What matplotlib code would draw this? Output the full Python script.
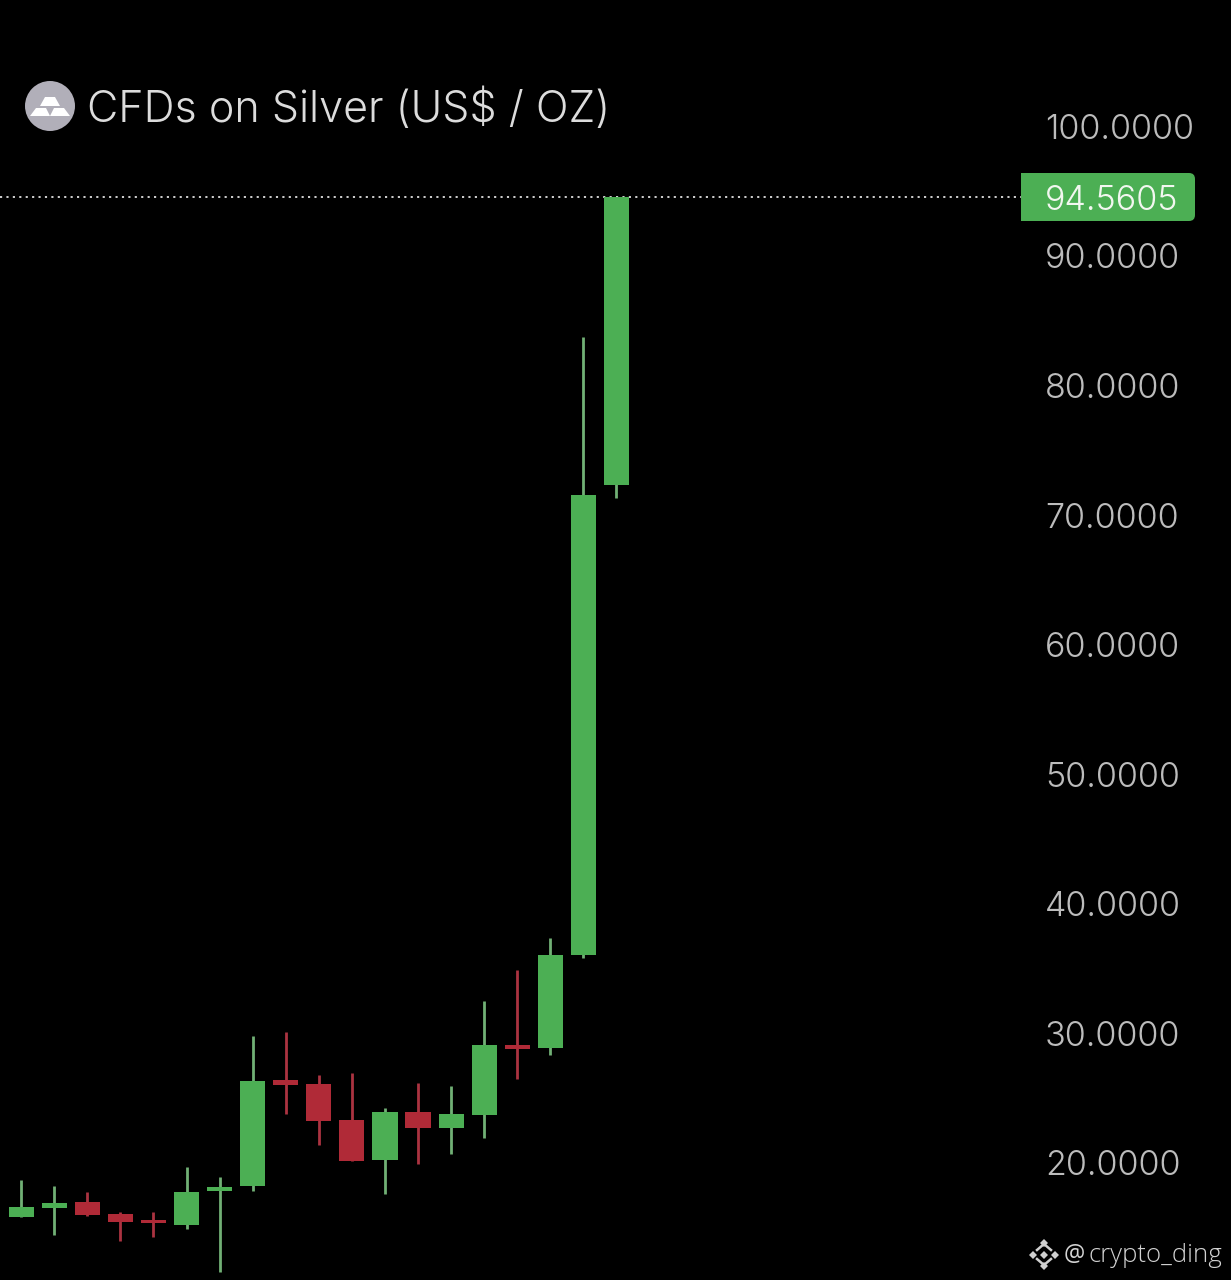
"""Monthly style candlestick chart of CFDs on silver."""

import matplotlib

matplotlib.use("Agg")

import matplotlib.pyplot as plt
from matplotlib.patches import Circle, FancyBboxPatch, Polygon, Rectangle
from matplotlib.ticker import FormatStrFormatter

W, H = 1231, 1280
GREEN = "#4caf54"
RED = "#b02a37"
BG = "#000000"
TICK_COLOR = "#bcbcbc"
FONT = "Inter"

opens = [15.81, 16.53, 16.97, 16.09, 15.60, 15.22, 17.82, 18.23, 26.40, 26.10, 23.29, 20.21, 23.94, 22.70, 23.70, 29.13, 28.85, 36.05, 72.31]
highs = [18.67, 18.23, 17.74, 16.22, 16.22, 19.69, 18.94, 29.82, 30.08, 26.79, 26.97, 24.27, 26.15, 25.94, 32.50, 34.89, 37.36, 83.73, 94.56]
lows = [15.81, 14.44, 15.93, 13.96, 14.27, 14.93, 11.61, 17.82, 23.80, 21.39, 20.18, 17.58, 19.90, 20.69, 21.91, 26.46, 28.36, 35.82, 71.31]
closes = [16.58, 16.89, 16.01, 15.45, 15.35, 17.79, 18.17, 26.33, 26.02, 23.22, 20.18, 23.94, 22.70, 23.78, 29.10, 28.82, 36.05, 71.54, 94.56]

y_ticks = [20, 30, 40, 50, 60, 70, 80, 90, 100]
last_price = "94.5605"
title = "CFDs on Silver (US$ / OZ)"
watermark = "crypto_ding"

fig = plt.figure(figsize=(W / 100, H / 100), dpi=100, facecolor=BG)

ax = fig.add_axes([0, 0, 1, 1], facecolor=BG)
ax.set_xlim(-0.64, 36.58)
ax.set_ylim(10.97, 109.74)
for spine in ax.spines.values():
    spine.set_visible(False)

x = list(range(len(opens)))
colors = [GREEN if c >= o else RED for o, c in zip(opens, closes)]
wick_colors = ["#71b075" if c >= o else "#ab3341" for o, c in zip(opens, closes)]

ax.vlines(x, lows, highs, colors=wick_colors, linewidth=2.0, zorder=2)
ax.bar(
    x,
    [abs(c - o) for o, c in zip(opens, closes)],
    bottom=[min(o, c) for o, c in zip(opens, closes)],
    width=0.76,
    color=colors,
    linewidth=0,
    zorder=3,
)

# price labels sit inside the plot, left aligned
ax.set_xticks([])
ax.set_yticks(y_ticks)
ax.yaxis.set_major_formatter(FormatStrFormatter("%.4f"))
ax.yaxis.tick_right()
ax.tick_params(axis="y", length=0, pad=-134, labelsize=24.6, labelcolor=TICK_COLOR)
for label in ax.get_yticklabels():
    label.set_fontfamily(FONT)
    label.set_fontweight(300)

ax.axhline(closes[-1], xmax=1021 / W, color="#d0d0d0", linewidth=1.4, linestyle=(0, (1.1, 2.2)), zorder=1)

# overlay in pixel coordinates for header, price tag and watermark
over = fig.add_axes([0, 0, 1, 1], facecolor="none")
over.set_xlim(0, W)
over.set_ylim(H, 0)
over.axis("off")

over.add_patch(Circle((50, 106), 25, color="#b1afb9", linewidth=0))
for bar in ([(45, 97), (55, 97), (60, 106), (40, 106)], [(36, 108), (46, 108), (50, 116), (30, 116)], [(54, 108), (64, 108), (70, 116), (50, 116)]):
    over.add_patch(Polygon(bar, closed=True, color="#ffffff", linewidth=0))

over.text(87, 110, title, color="#dcdcdc", fontsize=31, family=FONT, weight=300, ha="left", va="center")

over.add_patch(FancyBboxPatch((1027, 179), 162, 36, boxstyle="round,pad=6,rounding_size=6", color=GREEN, linewidth=0, zorder=4))
over.add_patch(Rectangle((1021, 173), 20, 48, color=GREEN, linewidth=0, zorder=4))
over.text(1112, 201, last_price, color="#f2f7f0", fontsize=24.6, family=FONT, weight=300, ha="center", va="center", zorder=5)

# small diamond logo next to the handle
for mx, my, size in [(1044, 1243, 4), (1044, 1266, 4), (1033, 1254.5, 4.5), (1055, 1254.5, 4.5), (1044, 1254.5, 4.5)]:
    over.plot([mx], [my], marker="D", markersize=size, color="#d0d0d0", markeredgewidth=0)
over.plot([1037, 1044, 1051], [1250, 1244, 1250], color="#d0d0d0", linewidth=1.8)
over.plot([1037, 1044, 1051], [1259, 1265, 1259], color="#d0d0d0", linewidth=1.8)

over.text(1064, 1255, "@", color="#d4d4d4", fontsize=17, family="Open Sans", ha="left", va="center")
over.text(1088, 1256, watermark, color="#d2d2d2", fontsize=18.5, family="Open Sans", weight=300, ha="left", va="center")

fig.savefig("out.png", dpi=100, facecolor=BG)
